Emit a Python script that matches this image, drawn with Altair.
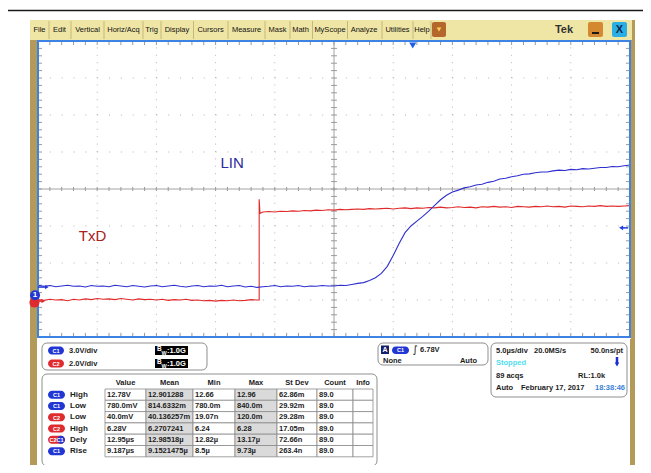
import altair as alt
import numpy as np
import pandas as pd

# ================= DATA =================
# waveforms: time in microseconds (5 us/div), amplitude in graticule divisions
blue_t = [round(x, 2) for x in np.arange(0, 50.01, 0.5)]
blue_v = [
    -2.60, -2.63, -2.61, -2.64, -2.62, -2.60, -2.63, -2.62, -2.65, -2.61,
    -2.63, -2.62, -2.64, -2.60, -2.62, -2.64, -2.61, -2.63, -2.65, -2.62,
    -2.61, -2.64, -2.62, -2.60, -2.63, -2.65, -2.62, -2.61, -2.64, -2.62,
    -2.63, -2.60, -2.64, -2.62, -2.61, -2.65, -2.63, -2.66, -2.64, -2.63,
    -2.61, -2.64, -2.62, -2.63, -2.61, -2.64, -2.62, -2.63, -2.61, -2.62,
    -2.62, -2.60, -2.61, -2.58, -2.55, -2.53, -2.47, -2.40, -2.28, -2.09,
    -1.80, -1.47, -1.18, -1.00, -0.87, -0.74, -0.60, -0.44, -0.29, -0.17,
    -0.08, -0.03, 0.03, 0.06, 0.11, 0.13, 0.18, 0.21, 0.27, 0.29,
    0.33, 0.36, 0.40, 0.41, 0.44, 0.46, 0.46, 0.49, 0.51, 0.50,
    0.53, 0.52, 0.55, 0.54, 0.56, 0.58, 0.58, 0.61, 0.60, 0.63, 0.65,
]
red_t_low = [round(x, 2) for x in np.arange(0, 18.51, 0.5)]
red_v_low = [
    -2.99, -3.01, -2.98, -3.00, -2.99, -3.02, -2.98, -3.00, -2.97, -2.99,
    -2.96, -2.98, -2.97, -2.99, -2.96, -2.98, -3.00, -2.97, -2.99, -2.98,
    -3.00, -2.98, -3.01, -2.99, -3.00, -2.98, -3.01, -3.00, -3.02, -3.01,
    -3.03, -3.01, -3.02, -3.00, -3.02, -3.01, -2.99, -3.00,
]
red_t_edge = [18.68, 18.68, 18.75]
red_v_edge = [-3.00, -0.28, -0.66]
red_t_high = [round(x, 2) for x in np.arange(19.0, 50.01, 0.5)]
red_v_high = [
    -0.62, -0.61, -0.62, -0.60, -0.61, -0.59, -0.60, -0.58, -0.59, -0.57,
    -0.58, -0.56, -0.57, -0.55, -0.56, -0.55, -0.54, -0.55, -0.53, -0.54,
    -0.53, -0.52, -0.54, -0.52, -0.51, -0.53, -0.51, -0.52, -0.50, -0.51,
    -0.49, -0.51, -0.50, -0.48, -0.50, -0.49, -0.51, -0.48, -0.49, -0.47,
    -0.49, -0.48, -0.50, -0.47, -0.48, -0.49, -0.47, -0.48, -0.46, -0.48,
    -0.47, -0.49, -0.46, -0.47, -0.48, -0.46, -0.47, -0.45, -0.47, -0.46,
    -0.47, -0.46, -0.45,
]
trace_labels = ["LIN", "TxD"]
trace_label_t = [16.4, 4.6]
trace_label_v = [0.70, -1.27]
trig_pos_t = 31.65
trig_level_v = -1.05

menu_items = ["File", "Edit", "Vertical", "Horiz/Acq", "Trig", "Display", "Cursors",
              "Measure", "Mask", "Math", "MyScope", "Analyze", "Utilities", "Help"]
channel_scale = ["3.0V/div", "2.0V/div"]
channel_bw = [":1.0G", ":1.0G"]
meas_cols = ["Value", "Mean", "Min", "Max", "St Dev", "Count", "Info"]
meas_src = ["C1", "C1", "C2", "C2", "C2C1", "C1"]
meas_name = ["High", "Low", "Low", "High", "Dely", "Rise"]
meas_vals = [
    ["12.78V", "12.901288", "12.66", "12.96", "62.86m", "89.0", ""],
    ["780.0mV", "814.6332m", "780.0m", "840.0m", "29.92m", "89.0", ""],
    ["40.0mV", "40.136257m", "19.07n", "120.0m", "29.28m", "89.0", ""],
    ["6.28V", "6.2707241", "6.24", "6.28", "17.05m", "89.0", ""],
    ["12.95µs", "12.98518µ", "12.82µ", "13.17µ", "72.66n", "89.0", ""],
    ["9.187µs", "9.1521475µ", "8.5µ", "9.73µ", "263.4n", "89.0", ""],
]

# ================= LAYOUT / STYLE =================
FONT = "Liberation Sans"
C1 = "#2236d4"
C2 = "#df2a2e"
BLUE_TR = "#2f2fd0"
RED_TR = "#e02a2a"
W, H = 635, 457

TX = alt.Scale(domain=[0, 50], range=[30, 622], nice=False, zero=False)
TY = alt.Scale(domain=[-4, 4], range=[329, 33], nice=False, zero=False)
PX = alt.Scale(domain=[8, 8 + W], range=[0, W], nice=False, zero=False)
PY = alt.Scale(domain=[8, 8 + H], range=[0, H], nice=False, zero=False)

menu_x = [39.5, 59.5, 87.5, 123.5, 151.5, 177, 210.5, 246.5, 277.5, 300.5, 330, 364, 397.5, 422]
menu_sep = [49, 71, 104, 143, 161, 193.5, 228, 265, 290, 312.5, 347.5, 382, 413, 431]
col_edges = [105, 146, 193, 235, 277, 317, 353, 373]
row_edges = [389, 400.3, 411.6, 422.9, 434.2, 445.5, 456.8]


def prect(rows, **kw):
    df = pd.DataFrame(rows, columns=["x0", "x1", "y0", "y1", "c"])
    return alt.Chart(df).mark_rect(**kw).encode(
        x=alt.X("x0:Q", scale=PX, axis=None), x2="x1:Q",
        y=alt.Y("y0:Q", scale=PY, axis=None), y2="y1:Q",
        color=alt.Color("c:N", scale=None))


def ptext(rows, size=7.5, weight="bold", align="left", color="#1c1c1c", font=FONT):
    df = pd.DataFrame(rows, columns=["x", "y", "s"])
    return alt.Chart(df).mark_text(align=align, baseline="middle", fontSize=size,
                                   fontWeight=weight, color=color, font=font).encode(
        x=alt.X("x:Q", scale=PX, axis=None), y=alt.Y("y:Q", scale=PY, axis=None), text="s:N")


def prule(rows, color, width=1.0, **kw):
    df = pd.DataFrame(rows, columns=["x0", "x1", "y0", "y1"])
    return alt.Chart(df).mark_rule(color=color, strokeWidth=width, **kw).encode(
        x=alt.X("x0:Q", scale=PX, axis=None), x2="x1:Q",
        y=alt.Y("y0:Q", scale=PY, axis=None), y2="y1:Q")


def ppoint(rows, shape, size, color):
    df = pd.DataFrame(rows, columns=["x", "y"])
    return alt.Chart(df).mark_point(shape=shape, size=size, filled=True, color=color, opacity=1).encode(
        x=alt.X("x:Q", scale=PX, axis=None), y=alt.Y("y:Q", scale=PY, axis=None))


def trule(rows, color, width=1.0, **kw):
    df = pd.DataFrame(rows, columns=["t0", "t1", "v0", "v1"])
    return alt.Chart(df).mark_rule(color=color, strokeWidth=width, **kw).encode(
        x=alt.X("t0:Q", scale=TX, axis=None), x2="t1:Q",
        y=alt.Y("v0:Q", scale=TY, axis=None), y2="v1:Q")


def tpoint(rows, shape, size, color):
    df = pd.DataFrame(rows, columns=["t", "v"])
    return alt.Chart(df).mark_point(shape=shape, size=size, filled=True, color=color, opacity=1).encode(
        x=alt.X("t:Q", scale=TX, axis=None), y=alt.Y("v:Q", scale=TY, axis=None))


def ttext(rows, size, color, weight="normal", align="center"):
    df = pd.DataFrame(rows, columns=["t", "v", "s"])
    return alt.Chart(df).mark_text(align=align, baseline="middle", fontSize=size,
                                   fontWeight=weight, color=color, font=FONT).encode(
        x=alt.X("t:Q", scale=TX, axis=None), y=alt.Y("v:Q", scale=TY, axis=None), text="s:N")


layers = []

# ---- frame / background ----
layers.append(prect([
    (8, 8 + W, 8, 8 + H, "#ffffff"),
    (30, 635, 20, 480, "#b39a58"),
    (30, 632, 20, 40, "#efe6a6"),
    (37, 631, 40, 339, "#ffffff"),
    (37, 630, 339, 470, "#ffffff"),
]))
layers.append(prule([(8, 8 + W, 10.5, 10.5)], "#1a1a1a", 1.5))

# ---- menu bar ----
layers.append(prule([(s, s, 21, 39) for s in menu_sep], "#c5b878", 1))
layers.append(ptext([(x, 30, s) for x, s in zip(menu_x, menu_items)], size=7.5,
                    weight="normal", align="center", color="#111111"))
layers.append(prect([(432, 446, 22, 37, "#b5662b"),
                     (588, 603, 22, 37, "#d4882f"),
                     (612, 627, 22, 37, "#2aaee6")], cornerRadius=2))
layers.append(ppoint([(439, 29.5)], "triangle-down", 22, "#ffd35a"))
layers.append(prule([(592, 599, 33, 33)], "#1a1a1a", 2))
layers.append(ptext([(619.5, 30, "X")], size=11, weight="bold", align="center", color="#0f2a4a"))
layers.append(ptext([(564, 30, "Tek")], size=11, weight="bold", align="center", color="#333333"))

# ---- graticule ----
layers.append(trule([(t, t, -4, 4) for t in [5, 10, 15, 20, 30, 35, 40, 45]], "#b4b4b4", 1,
                    strokeDash=[1, 6.4]))
layers.append(trule([(0, 50, v, v) for v in [-3, -2, -1, 1, 2, 3]], "#b4b4b4", 1,
                    strokeDash=[1, 10.84]))
layers.append(trule([(25, 25, -4, 4), (0, 50, 0, 0)], "#a2a2a2", 1))
minor_t = [round(x, 2) for x in np.arange(0, 50.01, 1)]
minor_v = [round(x, 2) for x in np.arange(-4, 4.01, 0.2)]
tick_rows = ([(t, t, -0.055, 0.055) for t in minor_t]
             + [(24.75, 25.25, v, v) for v in minor_v]
             + [(t, t, 3.89, 4) for t in minor_t]
             + [(t, t, -4, -3.89) for t in minor_t]
             + [(0, 0.34, v, v) for v in minor_v]
             + [(49.66, 50, v, v) for v in minor_v])
layers.append(trule(tick_rows, "#9a9a9a", 1))

# ---- traces ----
blue_df = pd.DataFrame({"t": blue_t, "v": blue_v, "i": range(len(blue_t))})
red_t = red_t_low + red_t_edge + red_t_high
red_v = red_v_low + red_v_edge + red_v_high
red_df = pd.DataFrame({"t": red_t, "v": red_v, "i": range(len(red_t))})
layers.append(alt.Chart(red_df).mark_line(color=RED_TR, strokeWidth=1.1).encode(
    x=alt.X("t:Q", scale=TX, axis=None), y=alt.Y("v:Q", scale=TY, axis=None), order="i:Q"))
layers.append(alt.Chart(blue_df).mark_line(color=BLUE_TR, strokeWidth=1.1).encode(
    x=alt.X("t:Q", scale=TX, axis=None), y=alt.Y("v:Q", scale=TY, axis=None), order="i:Q"))

# ---- plot border ----
layers.append(alt.Chart(pd.DataFrame({"t0": [0], "t1": [50], "v0": [-4], "v1": [4]})).mark_rect(
    fill="transparent", stroke="#3f82e6", strokeWidth=2).encode(
    x=alt.X("t0:Q", scale=TX, axis=None), x2="t1:Q",
    y=alt.Y("v0:Q", scale=TY, axis=None), y2="v1:Q"))

# ---- trace labels ----
layers.append(ttext([(trace_label_t[0], trace_label_v[0], trace_labels[0])], 15, "#2b2b9e"))
layers.append(ttext([(trace_label_t[1], trace_label_v[1], trace_labels[1])], 15, "#a82222"))

# ---- markers ----
layers.append(trule([(0, 0.45, -3.03, -3.03)], C2, 1.5))
layers.append(tpoint([(0.45, -3.03)], "triangle-right", 18, C2))
layers.append(tpoint([(-0.3, -3.07)], "circle", 100, C2))
layers.append(trule([(0, 0.75, -2.65, -2.65)], C1, 1.5))
layers.append(tpoint([(0.75, -2.65)], "triangle-right", 18, C1))
layers.append(tpoint([(-0.25, -2.87)], "circle", 100, C1))
layers.append(ttext([(-0.25, -2.87, "1")], 8, "#ffffff", weight="bold"))
layers.append(tpoint([(trig_pos_t, 3.88)], "triangle-down", 50, "#1f5ee8"))
layers.append(trule([(49.25, 49.85, trig_level_v, trig_level_v)], "#1f3fe0", 1.5))
layers.append(tpoint([(49.25, trig_level_v)], "triangle-left", 22, "#1f3fe0"))

# ---- bottom panels ----
layers.append(prect([(42, 207, 343, 370, "#ffffff"),
                     (378, 488, 343, 365, "#ffffff"),
                     (491, 627, 343, 397, "#ffffff"),
                     (42, 377, 374, 466, "#ffffff")],
                    cornerRadius=5, stroke="#8f8f8f", strokeWidth=1))

# channel box
layers.append(prect([(155, 188, 346, 355, "#000000"), (155, 188, 359, 368, "#000000")]))
layers.append(prect([(48, 64, 346.5, 354.5, C1), (48, 64, 359.5, 367.5, C2)], cornerRadius=4))
layers.append(ptext([(56, 350.5, "C1"), (56, 363.5, "C2")], size=5.5, align="center", color="#ffffff"))
layers.append(ptext([(69, 350.5, channel_scale[0]), (69, 363.5, channel_scale[1])]))
layers.append(ptext([(157, 349, "B"), (157, 362, "B")], size=6.5, color="#ffffff"))
layers.append(ptext([(161.5, 353, "W"), (161.5, 366, "W")], size=5.5, color="#ffffff"))
layers.append(ptext([(167, 351, channel_bw[0]), (167, 364, channel_bw[1])], color="#ffffff"))

# trigger box
layers.append(prect([(381, 389, 345.5, 354, "#16206a")]))
layers.append(ptext([(385, 350, "A")], size=7, align="center", color="#ffffff"))
layers.append(prect([(392, 409, 346.5, 354, C1)], cornerRadius=4))
layers.append(ptext([(400.5, 350.3, "C1")], size=5.5, align="center", color="#ffffff"))
layers.append(ptext([(415, 350, "∫")], size=10, weight="normal", align="center",
                    color="#111111", font="DejaVu Sans"))
layers.append(ptext([(420, 350, "6.78V"), (383, 361, "None")]))
layers.append(ptext([(477, 361, "Auto")], align="right"))

# horizontal box
layers.append(ptext([(496, 351, "5.0µs/div"), (534, 351, "20.0MS/s"),
                     (496, 376, "89 acqs"), (578, 376, "RL:1.0k"),
                     (496, 388, "Auto"), (521, 388, "February 17, 2017")]))
layers.append(ptext([(623, 351, "50.0ns/pt")], align="right"))
layers.append(ptext([(496, 363, "Stopped")], color="#4fdcf0"))
layers.append(ptext([(595, 388, "18:38:46")], color="#3b7fd8"))
layers.append(prule([(617, 617, 357, 363)], "#1b2fcf", 2.5))
layers.append(ppoint([(617, 364.5)], "triangle-down", 22, "#1b2fcf"))

# measurement table
cell_rows = []
for r in range(6):
    for c in range(7):
        fill = "#dadada" if c in (1, 3) else "#ffffff"
        cell_rows.append((col_edges[c], col_edges[c + 1], row_edges[r], row_edges[r + 1], fill))
layers.append(prect(cell_rows, stroke="#8a8a8a", strokeWidth=0.8))
row_mid = [(row_edges[i] + row_edges[i + 1]) / 2 for i in range(6)]
col_mid = [(col_edges[i] + col_edges[i + 1]) / 2 for i in range(7)]
layers.append(ptext([(col_mid[i], 382.5, meas_cols[i]) for i in range(7)], align="center"))
layers.append(ptext([(col_edges[c] + 2, row_mid[r], meas_vals[r][c])
                     for r in range(6) for c in range(7) if meas_vals[r][c]]))
pill_rows = []
for r, src in enumerate(meas_src):
    col = C1 if src == "C1" else C2
    pill_rows.append((48, 65, row_mid[r] - 4, row_mid[r] + 4, col))
layers.append(prect(pill_rows, cornerRadius=4))
dely = meas_src.index("C2C1")
layers.append(prect([(57, 65, row_mid[dely] - 4, row_mid[dely] + 4, C1)], cornerRadius=4))
layers.append(ptext([(56.5, row_mid[r] + 0.3, s) for r, s in enumerate(meas_src)],
                    size=5.5, align="center", color="#ffffff"))
layers.append(ptext([(70, row_mid[r], s) for r, s in enumerate(meas_name)], size=8))

chart = alt.layer(*layers).resolve_scale(x="independent", y="independent").properties(
    width=W, height=H, padding=0, autosize=alt.AutoSizeParams(type="none"),
    background="#ffffff").configure_view(stroke=None)

chart.save("out.html", embed_options={"renderer": "svg", "actions": False})
